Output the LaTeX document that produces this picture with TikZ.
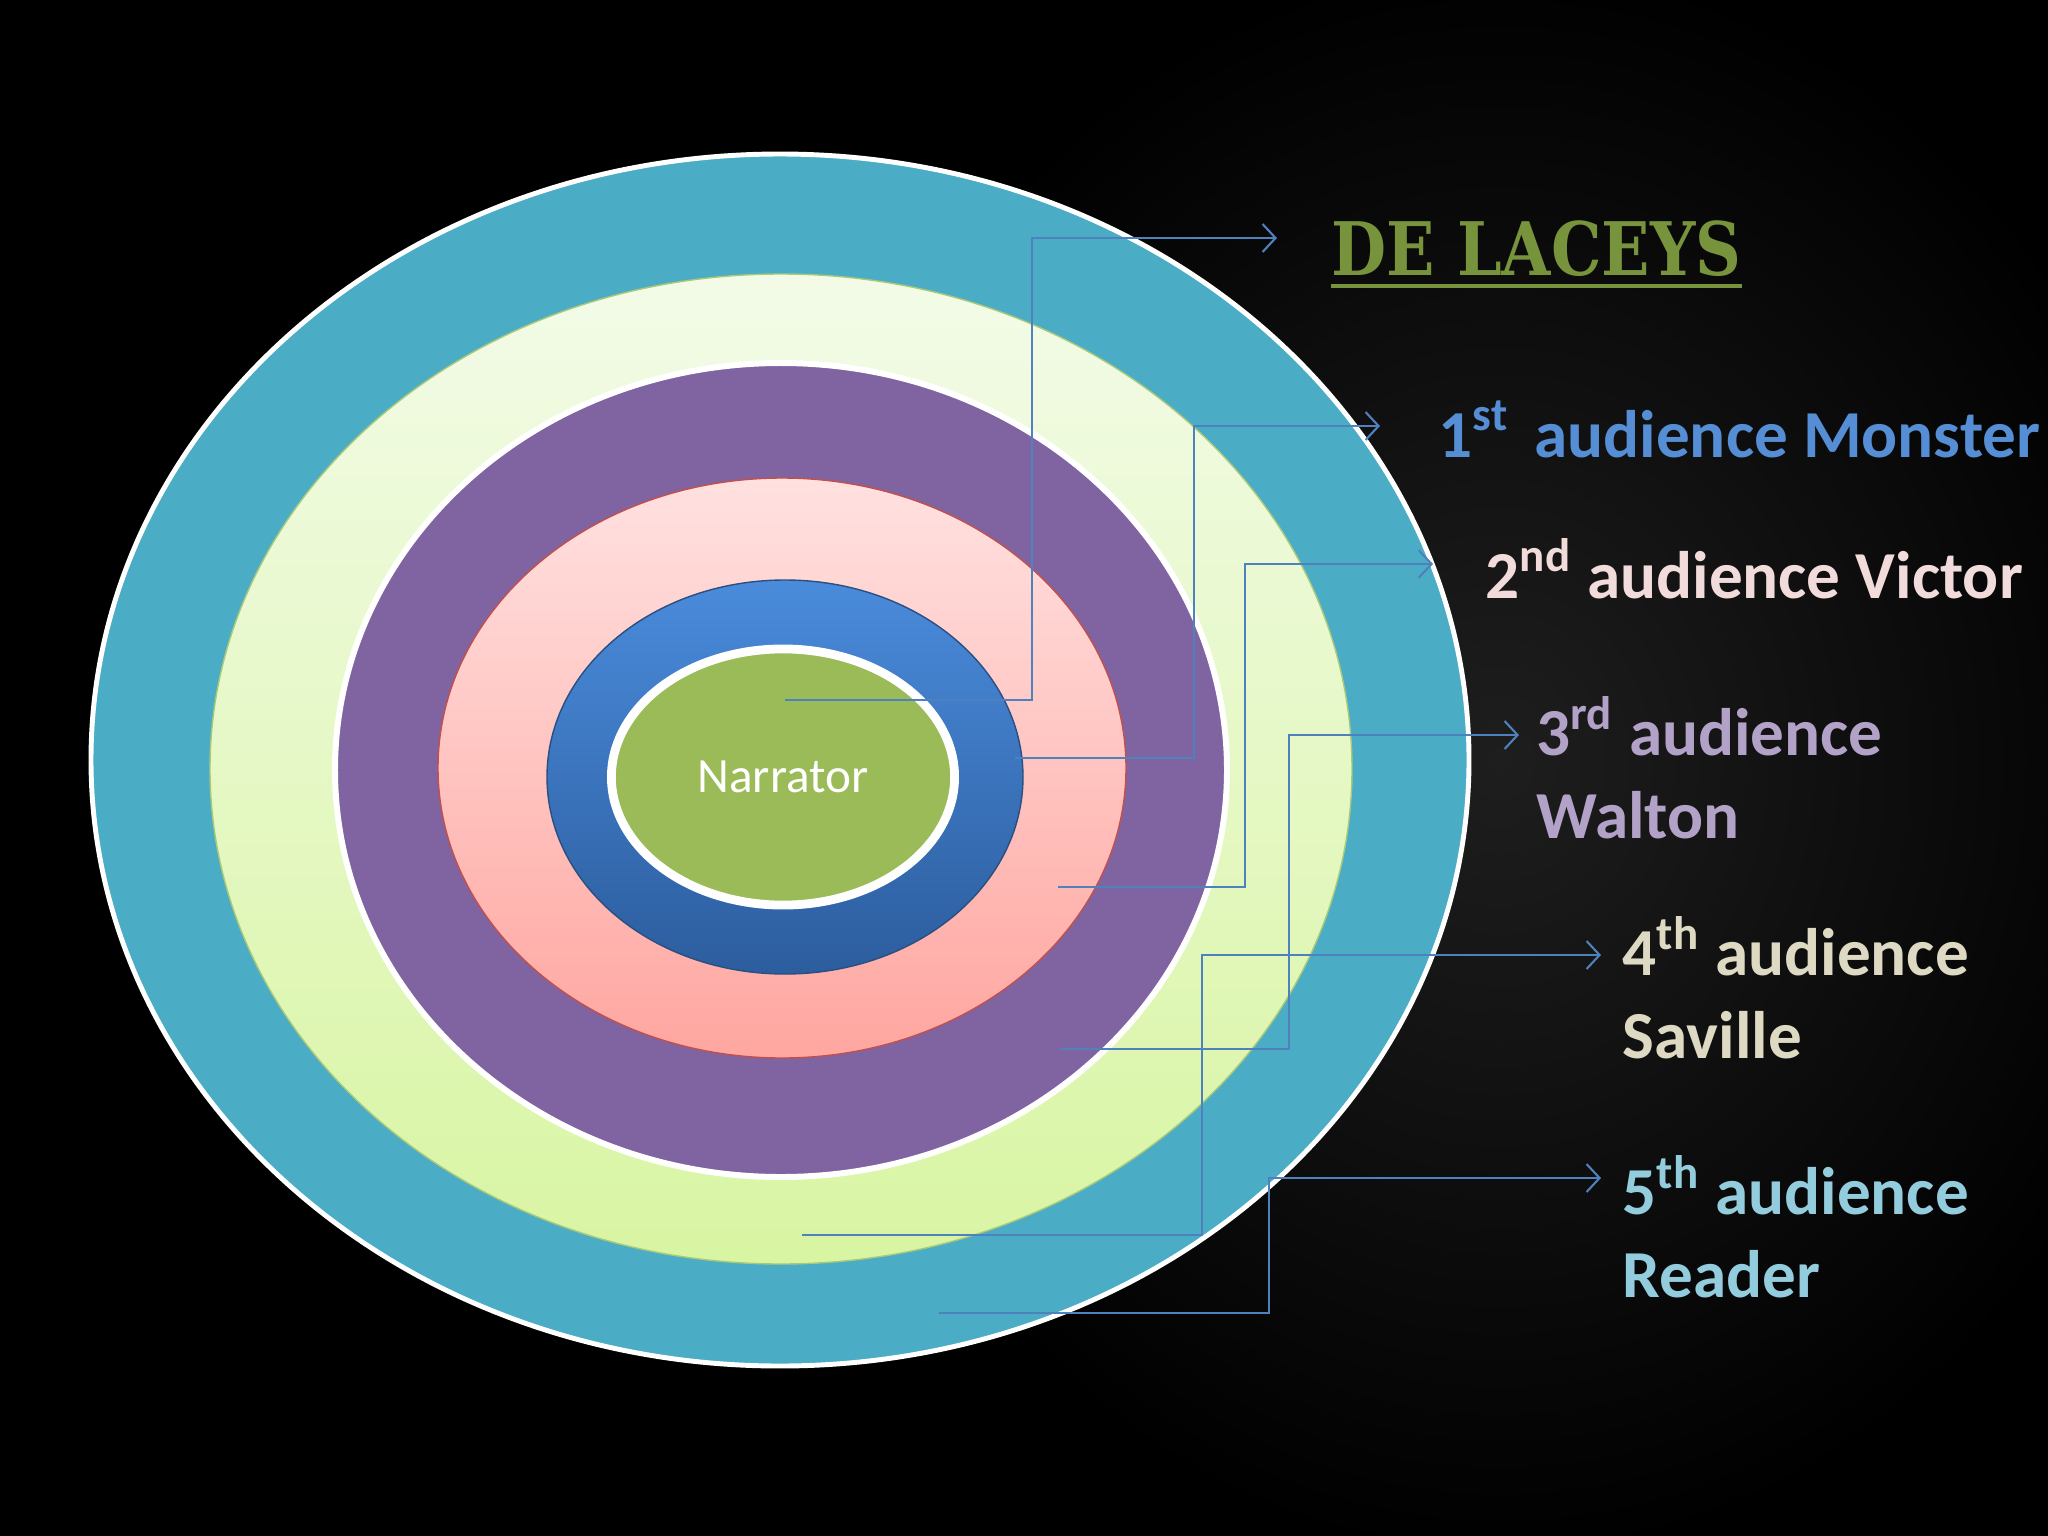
\documentclass[tikz,border=0pt]{standalone}
\usepackage{fontspec}
\setmainfont{Carlito}
\newfontfamily\titlefont[FakeStretch=0.86]{DejaVu Serif}
\usetikzlibrary{shapes.geometric,arrows.meta}

\definecolor{tealring}{HTML}{4BACC6}
\definecolor{lgtop}{HTML}{F3FBE8}
\definecolor{lgbot}{HTML}{D8F5A2}
\definecolor{lgedge}{HTML}{A9C97A}
\definecolor{purplering}{HTML}{8064A2}
\definecolor{pinktop}{HTML}{FFE1E0}
\definecolor{pinkbot}{HTML}{FFA6A0}
\definecolor{pinkedge}{HTML}{C0504D}
\definecolor{ringtop}{HTML}{4A8BDB}
\definecolor{ringbot}{HTML}{2C5D9E}
\definecolor{ringedge}{HTML}{2A4F80}
\definecolor{narrgreen}{HTML}{9BBB59}
\definecolor{linkblue}{HTML}{4F81BD}
\definecolor{monsterblue}{HTML}{558ED5}
\definecolor{victorpink}{HTML}{F2DCDB}
\definecolor{waltonlilac}{HTML}{B3A2C7}
\definecolor{savillebeige}{HTML}{DDD9C3}
\definecolor{readerblue}{HTML}{93CDDD}
\definecolor{laceygreen}{HTML}{77933C}
\definecolor{smoke}{HTML}{1E1E1E}

\tikzset{
  link/.style={draw=linkblue,line width=0.6pt,-{Straight Barb[length=1.3mm,width=2.8mm]}},
  audience/.style={anchor=base west,inner sep=0pt,align=left,
    font=\bfseries\fontsize{19.1}{23.4}\selectfont}
}

\begin{document}
\begin{tikzpicture}[x=0.01cm,y=-0.01cm]
  \useasboundingbox (0,0) rectangle (2048,1536);
  \fill[black] (0,0) rectangle (2048,1536);
  \shade[inner color=smoke,outer color=black] (1500,760) ellipse [x radius=700,y radius=800];

  % rings, outside in
  \filldraw[draw=white,line width=1.4pt,fill=tealring] (780,760) ellipse [x radius=689,y radius=606];
  \shadedraw[top color=lgtop,bottom color=lgbot,draw=lgedge,line width=0.4pt] (781,769) ellipse [x radius=571,y radius=495];
  \filldraw[draw=white,line width=1.7pt,fill=purplering] (781,770) ellipse [x radius=446,y radius=407];
  \shadedraw[top color=pinktop,bottom color=pinkbot,draw=pinkedge,line width=0.4pt] (782,768) ellipse [x radius=344,y radius=290];
  \shadedraw[top color=ringtop,bottom color=ringbot,draw=ringedge,line width=0.4pt] (785,777) ellipse [x radius=238,y radius=197];
  \node[ellipse,draw=white,line width=2.5pt,fill=narrgreen,minimum width=3.43cm,minimum height=2.56cm,
    text=white,font=\fontsize{14}{16}\selectfont] (narrator) at (783,777) {Narrator};

  % labels (two-line ones sit on their last baseline)
  \node[anchor=base west,inner sep=0pt,text=laceygreen,
    font=\titlefont\bfseries\fontsize{21}{24}\selectfont] (delaceys) at (1331,275) {DE LACEYS};
  \draw[laceygreen,line width=1.1pt] ([yshift=-0.11cm]delaceys.base west) -- ([yshift=-0.11cm]delaceys.base east);
  \node[audience,text=monsterblue] (monster) at (1438,457) {1\textsuperscript{st}\hspace{0.15em} audience Monster};
  \node[audience,text=victorpink] (victor) at (1485,598) {2\textsuperscript{nd} audience Victor};
  \node[audience,text=waltonlilac] (walton) at (1536,838) {3\textsuperscript{rd} audience\\Walton};
  \node[audience,text=savillebeige] (saville) at (1622,1058) {4\textsuperscript{th} audience\\Saville};
  \node[audience,text=readerblue] (reader) at (1622,1297) {5\textsuperscript{th} audience\\Reader};

  % connectors
  \coordinate (s1) at (785,700);  \coordinate (e1) at (1277,238);
  \coordinate (s2) at (1015,758); \coordinate (e2) at (1380,426);
  \coordinate (s3) at (1058,887); \coordinate (e3) at (1433,564);
  \coordinate (s4) at (1060,1049); \coordinate (e4) at (1519,735);
  \coordinate (s5) at (802,1235); \coordinate (e5) at (1601,955);
  \coordinate (s6) at (939,1313); \coordinate (e6) at (1601,1178);
  \draw[link] (s1) -| (1032,238) -- (e1);
  \draw[link] (s2) -| (1194,426) -- (e2);
  \draw[link] (s3) -| (1245,564) -- (e3);
  \draw[link] (s4) -| (1289,735) -- (e4);
  \draw[link] (s5) -| (1202,955) -- (e5);
  \draw[link] (s6) -| (1269,1178) -- (e6);
\end{tikzpicture}
\end{document}
